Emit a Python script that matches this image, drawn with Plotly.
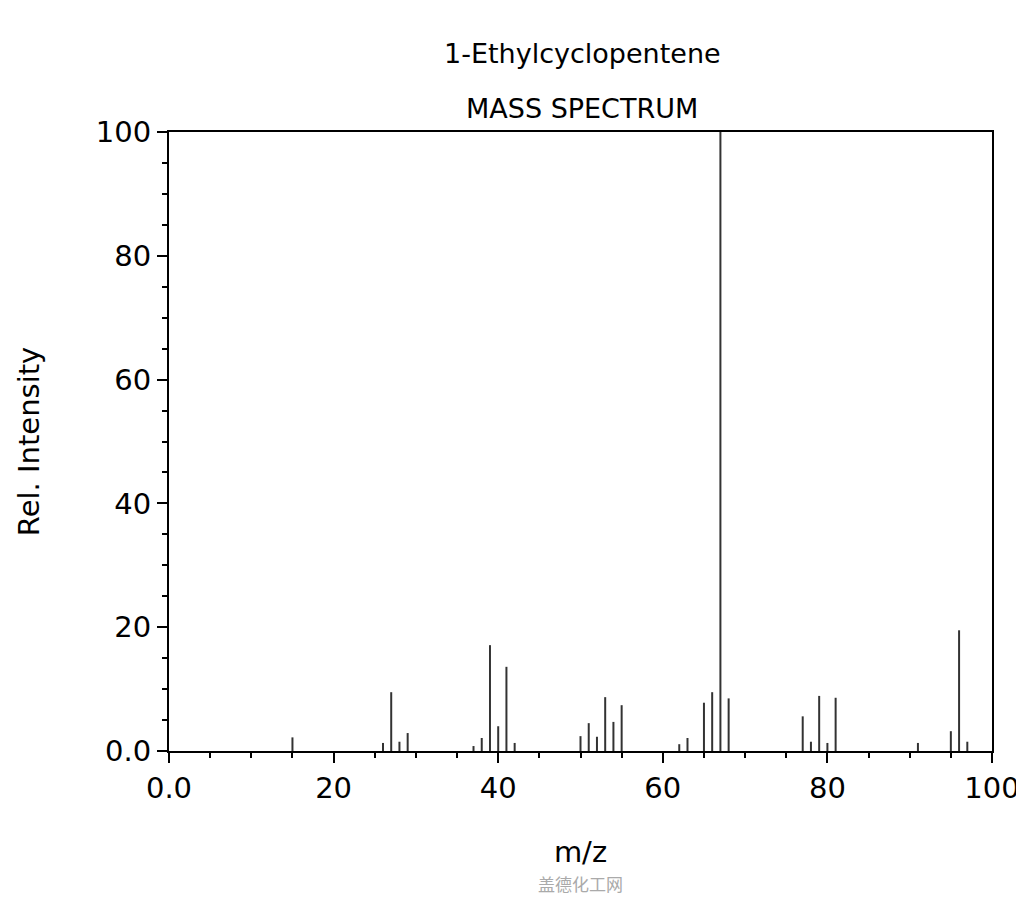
import plotly.graph_objects as go

mz = [15, 26, 27, 28, 29, 37, 38, 39, 40, 41, 42, 50, 51, 52, 53, 54, 55,
      62, 63, 65, 66, 67, 68, 77, 78, 79, 80, 81, 91, 95, 96, 97]
intensity = [2.2, 1.3, 9.5, 1.5, 2.9, 0.8, 2.1, 17.1, 4.0, 13.6, 1.3, 2.4, 4.5, 2.3, 8.7, 4.7, 7.4,
             1.1, 2.1, 7.8, 9.5, 100, 8.5, 5.6, 1.5, 8.9, 1.3, 8.6, 1.3, 3.2, 19.5, 1.5]
xticks = [0, 20, 40, 60, 80, 100]
xticklabels = ["0.0", "20", "40", "60", "80", "100"]
yticks = [0, 20, 40, 60, 80, 100]
yticklabels = ["0.0", "20", "40", "60", "80", "100"]

xs, ys = [], []
for m, v in zip(mz, intensity):
    xs += [m, m, None]
    ys += [0, v, None]

fig = go.Figure(go.Scatter(x=xs, y=ys, mode="lines", line=dict(color="#333333", width=2),
                           hoverinfo="skip", showlegend=False))
fig.update_layout(
    width=1024, height=900, plot_bgcolor="white", paper_bgcolor="white",
    margin=dict(l=161, r=33, t=124, b=157),
    font=dict(family="DejaVu Sans", color="black"),
)
axcommon = dict(showgrid=False, zeroline=False, showline=True, linecolor="black", linewidth=2,
                mirror=True, ticks="outside", ticklen=10, tickwidth=2, tickcolor="black",
                tickfont=dict(size=29),
                minor=dict(ticks="outside", ticklen=5, tickwidth=1.5, tickcolor="black", dtick=5))
fig.update_xaxes(range=[0, 100], tickvals=xticks, ticktext=xticklabels,
                 title=dict(text="m/z", font=dict(size=29), standoff=38), **axcommon)
fig.update_yaxes(range=[0, 100], tickvals=yticks, ticktext=yticklabels,
                 title=dict(text="Rel. Intensity", font=dict(size=29), standoff=48), **axcommon)
fig.add_annotation(text="1-Ethylcyclopentene", x=0.502, y=45, xref="paper", yref="paper",
                   showarrow=False, font=dict(size=27))
fig.add_annotation(text="MASS SPECTRUM", x=0.502, y=100, xref="paper", yref="paper",
                   showarrow=False, font=dict(size=27))
fig.add_annotation(text="盖德化工网", x=0.5, y=875, xref="paper", yref="paper",
                   showarrow=False, font=dict(size=17, color="#aaaaaa", family="Noto Sans CJK SC"))
# convert pixel y positions to paper coordinates
ph = 900 - 124 - 157
for a in fig.layout.annotations:
    a.y = (900 - 157 - a.y) / ph
    a.yanchor = "middle"
fig.write_html("out.html")
